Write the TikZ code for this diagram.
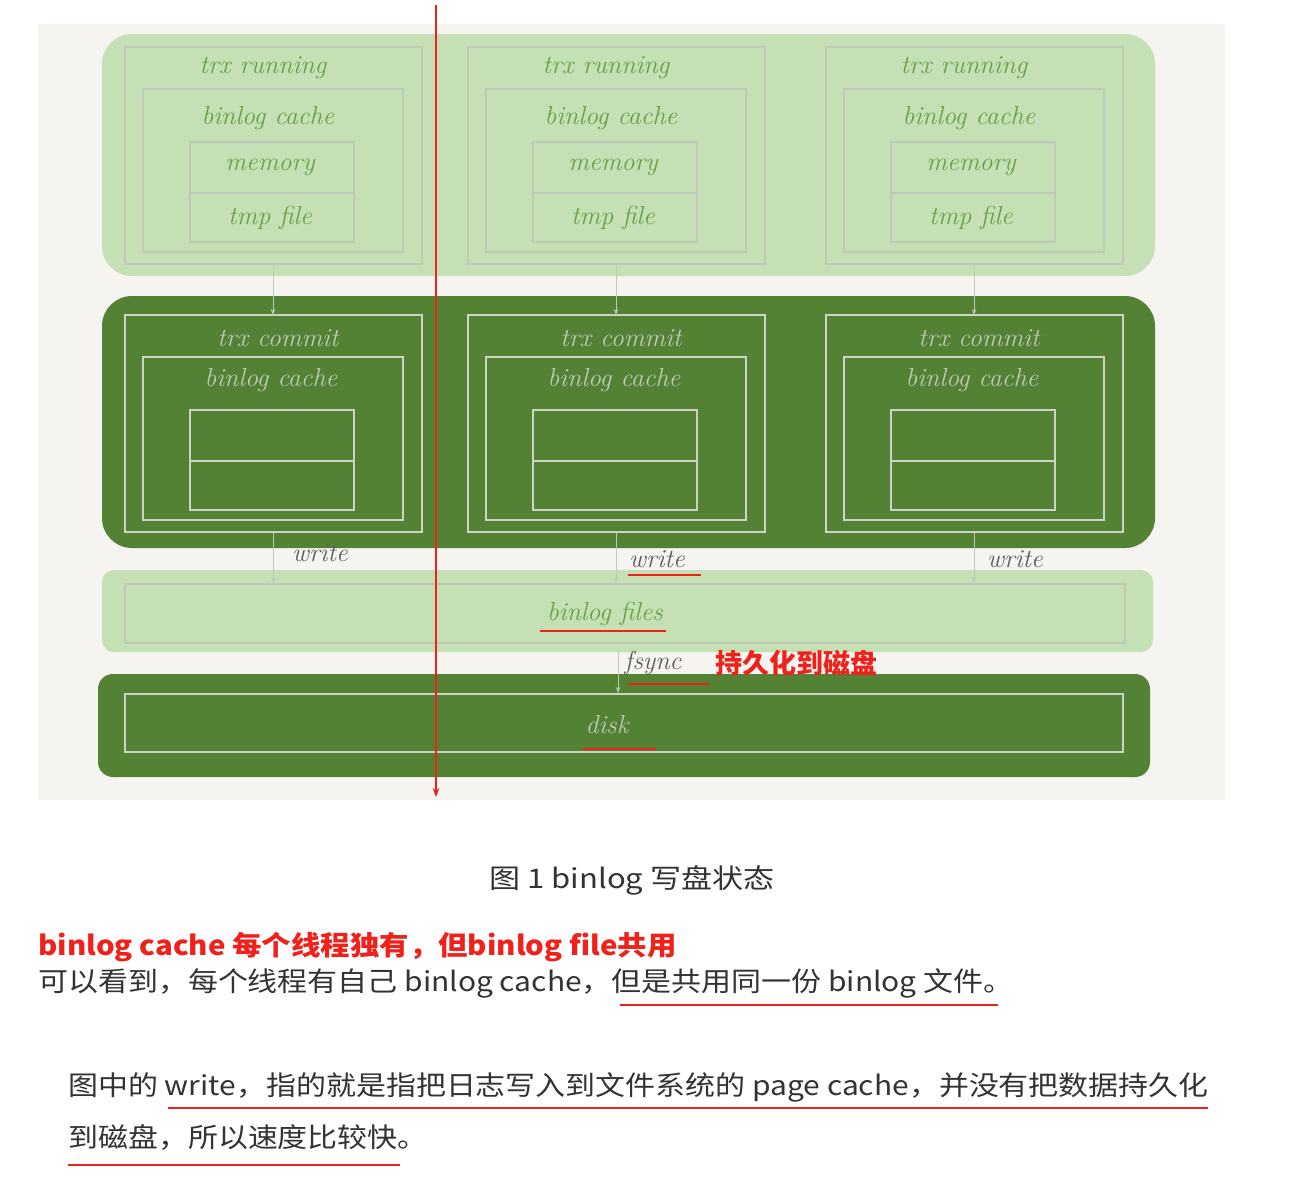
\documentclass[tikz,border=0pt]{standalone}
\usepackage{fontspec}
\newfontfamily\cjk{Noto Sans CJK SC}
\usetikzlibrary{arrows.meta}
\definecolor{lg}{HTML}{C5E0B4}
\definecolor{dg}{HTML}{548235}
\definecolor{tg}{HTML}{6A9E48}
\definecolor{bx}{HTML}{BFC9B8}
\definecolor{bg}{HTML}{F5F4F0}
\definecolor{rd}{HTML}{F0201A}
\definecolor{gt}{HTML}{333333}
\begin{document}
\begin{tikzpicture}[x=1pt,y=-1pt,
  band/.style={rounded corners=30pt},
  lbox/.style={draw=bx,line width=1.2pt},
  dbox/.style={draw=bx!80,line width=1.2pt},
  ltxt/.style={font=\fontsize{26}{26}\selectfont\itshape,text=tg},
  dtxt/.style={font=\fontsize{26}{26}\selectfont\itshape,text=bx},
  garrow/.style={draw=bx,line width=1pt,-{Stealth[length=6pt]}},
  rline/.style={draw=rd,line width=1.5pt},
  ctxt/.style={font=\cjk\fontsize{27}{27}\selectfont,text=gt,anchor=west,inner sep=0pt}]
\useasboundingbox (0,0) rectangle (1290,1186);
\fill[white] (0,0) rectangle (1290,1186);
\fill[bg] (38,24) rectangle (1225,800);
\fill[lg,band] (102,34) rectangle (1155,276);
\fill[dg,band] (102,296) rectangle (1155,548);
\fill[lg,rounded corners=12pt] (102,570) rectangle (1153,652);
\fill[dg,rounded corners=15pt] (98,674) rectangle (1150,777);
\foreach \dx/\n in {0/a,343/b,701/c}{
  \begin{scope}[xshift=\dx pt]
  \draw[lbox] (125,47) rectangle (422,264);
  \draw[lbox] (143,89) rectangle (403,252);
  \draw[lbox] (190,142) rectangle (354,242);
  \draw[lbox] (190,193) -- (354,193);
  \node[ltxt] (run\n) at (263,68) {trx running};
  \node[ltxt] (bc\n) at (268,118) {binlog cache};
  \node[ltxt] (mem\n) at (270,167) {memory};
  \node[ltxt] (tmp\n) at (270,218) {tmp file};
  \coordinate (o\n) at (273,264);
  \coordinate (i\n) at (273,315);
  \draw[dbox] (125,315) rectangle (422,532);
  \draw[dbox] (143,357) rectangle (403,520);
  \draw[dbox] (190,410) rectangle (354,510);
  \draw[dbox] (190,461) -- (354,461);
  \node[dtxt] (cm\n) at (278,338) {trx commit};
  \node[dtxt] (cc\n) at (271,380) {binlog cache};
  \coordinate (w\n) at (273,532);
  \coordinate (f\n) at (273,583);
  \end{scope}
  \draw[garrow] (o\n) -- (i\n);
  \draw[garrow] (w\n) -- (f\n);
}
\node[ltxt,text=gt!80] (wa) at (320,553) {write};
\node[ltxt,text=gt!80] (wb) at (657,559) {write};
\node[ltxt,text=gt!80] (wc) at (1015,559) {write};
\draw[lbox] (125,584) rectangle (1125,643);
\node[ltxt] (files) at (605,614) {binlog files};
\draw[dbox] (125,694) rectangle (1123,752);
\node[dtxt] (disk) at (607,725) {disk};
\coordinate (fs1) at (618,652); \coordinate (fs2) at (618,693);
\draw[garrow] (fs1) -- (fs2);
\node[ltxt,text=gt!80] (fsync) at (653,663) {fsync};
\node[font=\cjk\bfseries\fontsize{27}{27}\selectfont,text=rd] (persist) at (796,663) {持久化到磁盘};
\draw[rline] (628,575) -- (701,575);
\draw[rline] (540,631) -- (666,631);
\draw[rline] (628,684) -- (710,684);
\draw[rline] (583,749) -- (656,749);
\coordinate (vt) at (436,5); \coordinate (vb) at (436,797);
\draw[rline,-{Stealth[length=9pt]}] (vt) -- (vb);
\node[font=\cjk\fontsize{27}{27}\selectfont,text=gt] (cap) at (632,880) {\scalebox{1.15}[1]{图 1 binlog 写盘状态}};
\node[font=\cjk\bfseries\fontsize{27}{27}\selectfont,text=rd,anchor=west,inner sep=0pt] (note) at (38,947) {\scalebox{1.09}[1]{binlog cache 每个线程独有，但binlog file共用}};
\node[ctxt] (p1) at (38,983) {\scalebox{1.11}[1]{可以看到，每个线程有自己 binlog cache，但是共用同一份 binlog 文件。}};
\draw[rline] (620,1005) -- (998,1005);
\node[ctxt] (p2) at (68,1087) {\scalebox{1.11}[1]{图中的 write，指的就是指把日志写入到文件系统的 page cache，并没有把数据持久化}};
\draw[rline] (168,1108) -- (1208,1108);
\node[ctxt] (p3) at (68,1137) {\scalebox{1.11}[1]{到磁盘，所以速度比较快。}};
\draw[rline] (68,1165) -- (400,1165);
\end{tikzpicture}
\end{document}
